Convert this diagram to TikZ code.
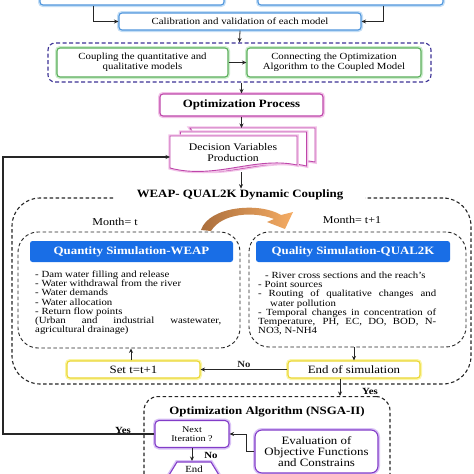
\documentclass[tikz,border=0pt]{standalone}
\usepackage{fontspec}
\setmainfont[FakeStretch=1.15]{Liberation Serif}
\usetikzlibrary{arrows.meta,calc}
\definecolor{bluebd}{RGB}{80,150,220}
\definecolor{blueglow}{RGB}{195,222,246}
\definecolor{greenbd}{RGB}{90,175,90}
\definecolor{greenglow}{RGB}{205,236,205}
\definecolor{pinkbd}{RGB}{190,70,170}
\definecolor{pinkglow}{RGB}{242,195,232}
\definecolor{purbd}{RGB}{130,60,200}
\definecolor{purglow}{RGB}{218,195,246}
\definecolor{yelbd}{RGB}{235,215,50}
\definecolor{yelglow}{RGB}{250,245,165}
\definecolor{navyd}{RGB}{60,50,150}
\definecolor{hdrblue}{RGB}{25,110,230}
\definecolor{arrbrown}{RGB}{170,110,60}
\definecolor{arrorange}{RGB}{245,172,100}
\newcommand\fsA{\fontsize{9.4}{9.6}\selectfont}
\newcommand\fsB{\fontsize{11.2}{11}\selectfont}
\newcommand\fsN{\fontsize{8.8}{9}\selectfont}
\newcommand\fsD{\fontsize{10.2}{10.5}\selectfont}
\newcommand\fsM{\fontsize{10.5}{11}\selectfont}
\tikzset{
  box/.style={rectangle, fill=white, align=center, inner sep=0pt, rounded corners=3pt},
  bluebox/.style={box, draw=bluebd, line width=1.1pt, preaction={draw=blueglow, line width=4pt}},
  greenbox/.style={box, draw=greenbd, line width=1.1pt, preaction={draw=greenglow, line width=4pt}},
  pinkbox/.style={box, draw=pinkbd, line width=1.1pt, preaction={draw=pinkglow, line width=4pt}},
  purbox/.style={box, draw=purbd, line width=1.1pt, preaction={draw=purglow, line width=4pt}},
  yelbox/.style={box, draw=yelbd, line width=1.1pt, preaction={draw=yelglow, line width=4pt}},
  dbox/.style={draw=black!85, dash pattern=on 3.5pt off 2.5pt, line width=1pt},
  hdr/.style={rectangle, rounded corners=2.5pt, fill=hdrblue, text=white, font=\bfseries\fsB, inner sep=0pt},
  arr/.style={-{Stealth[length=4.5pt,width=4pt]}, line width=0.8pt, black!85},
  lbl/.style={font=\bfseries\fsA, inner sep=1pt},
  lst/.style={anchor=base west, inner sep=0pt, font=\fsA},
  pagestyle/.style={draw=pinkbd, fill=white, line width=0.9pt, preaction={draw=pinkglow, line width=3.5pt}}
}
\begin{document}
\begin{tikzpicture}[x=1pt,y=-1pt]
\useasboundingbox (0,0) rectangle (474,474);
\clip (0,0) rectangle (474,474);
\fill[white] (0,0) rectangle (474,474);

% top (cut) boxes
\node[bluebox, minimum width=184, minimum height=22] (m1) at (132,-6) {};
\node[bluebox, minimum width=185, minimum height=22] (m2) at (350.5,-6) {};
\node[bluebox, minimum width=242, minimum height=17, font=\fsA] (cal) at (240,21.5) {Calibration and validation of each model};
\draw[arr] ([xshift=-39pt]m1.south) |- (cal.west);
\draw[arr] ([xshift=32.5pt]m2.south) |- (cal.east);

% coupling group
\node[draw=navyd, dash pattern=on 4pt off 2.5pt, line width=1.1pt, rounded corners=7pt, minimum width=383, minimum height=39] (cpl) at (239.5,62.5) {};
\node[greenbox, minimum width=171, minimum height=29, font=\fsA] (g1) at (142.5,62.5) {Coupling the quantitative and\\qualitative models};
\node[greenbox, minimum width=174, minimum height=29, font=\fsA] (g2) at (334,62.5) {Connecting the Optimization\\Algorithm to the Coupled Model};
\draw[arr] (cal.south) -- (cpl.north);
\draw[arr] (g1.east) -- (g2.west);

\node[pinkbox, minimum width=163, minimum height=22, font=\bfseries\fsB] (op) at (241.5,105) {Optimization Process};
\draw[arr] (op.north |- cpl.south) -- (op.north);

% decision variables (multi-document)
\draw[pagestyle] (190,128) -- (315,128) -- (315,162) .. controls (285,156) and (255,170) .. (215,165) -- cycle;
\draw[pagestyle] (180.5,132) -- (306.5,132) -- (306.5,166) .. controls (265,156) and (230,180) .. (180.5,168) -- cycle;
\draw[pagestyle] (170,136) -- (297,136) -- (297,165) .. controls (255,156) and (215,180) .. (170,168) -- cycle;
\node[font=\fsD, align=center, inner sep=0pt] (dec) at (233,152.5) {Decision Variables\\Production};
\coordinate (dectop) at (243,128);
\coordinate (decbot) at (241,172);
\coordinate (decin) at (170,157);
\draw[arr] (op.south) -- (op.south |- dectop);

% big dynamic coupling box
\node[dbox, line width=1.1pt, rounded corners=28pt, minimum width=459, minimum height=186] (big) at (241.5,291) {};
\node[font=\bfseries\fsB, fill=white, inner xsep=22pt, inner ysep=1pt] (ttl) at (240,195) {WEAP- QUAL2K Dynamic Coupling};
\draw[arr] (decbot) -- (decbot |- ttl.north);

\node[font=\fsM, inner sep=0pt] (mt) at (115,222) {Month= t};
\node[font=\fsM, inner sep=0pt] (mt1) at (352,220) {Month= t+1};

\node[dbox, line width=0.9pt, rounded corners=20pt, minimum width=222, minimum height=116] (lbox) at (129,290) {};
\node[dbox, line width=0.9pt, rounded corners=20pt, minimum width=217, minimum height=115] (rbox) at (357.5,289.5) {};

\shade[left color=arrbrown, right color=arrorange]
  (201,230) .. controls (209,206) and (260,202) .. (281,215)
  -- (293,212) -- (285,229) -- (267,222) -- (274,219)
  .. controls (254,211) and (222,213) .. (211,231) -- cycle;

\node[hdr, minimum width=203, minimum height=21] (lh) at (131.5,251.5) {Quantity Simulation-WEAP};
\node[hdr, minimum width=194, minimum height=21] (rh) at (353,251.5) {Quality Simulation-QUAL2K};

% left list
\node[lst] (l1) at (35,277.5) {- Dam water filling and release};
\node[lst] (l2) at (35,286.7) {- Water withdrawal from the river};
\node[lst] (l3) at (35,295.9) {- Water demands};
\node[lst] (l4) at (35,305.1) {- Water allocation};
\node[lst] (l5) at (35,314.3) {- Return flow points};
\node[lst] (l6) at (35,323.5) {\makebox[186pt][s]{(Urban and industrial wastewater,}};
\node[lst] (l7) at (35,332.7) {agricultural drainage)};

% right list
\node[lst] (r1) at (265,278.5) {- River cross sections and the reach’s};
\node[lst] (r2) at (258,287.7) {- Point sources};
\node[lst] (r3) at (258,296.9) {\makebox[178pt][s]{- Routing of qualitative changes and}};
\node[lst] (r4) at (270,306.1) {water pollution};
\node[lst] (r5) at (258,315.3) {\makebox[178pt][s]{- Temporal changes in concentration of}};
\node[lst] (r6) at (258,324.5) {\makebox[178pt][s]{Temperature, PH, EC, DO, BOD, N-}};
\node[lst] (r7) at (258,333.7) {NO3, N-NH4};

\node[yelbox, minimum width=133, minimum height=17, font=\fsB] (set) at (133.5,369.5) {Set t=t+1};
\node[yelbox, minimum width=132, minimum height=17, font=\fsB] (eos) at (354,369.5) {End of simulation};
\draw[arr] (eos.north |- rbox.south) -- (eos.north);
\draw[arr] ([xshift=-2.5pt]set.north) -- ([xshift=-2.5pt]set.north |- lbox.south);
\draw[arr] (eos.west) -- (set.east) node[midway, above, lbl, yshift=0.5pt] {No};

% optimization algorithm
\node[dbox, line width=1.1pt, rounded corners=14pt, minimum width=246, minimum height=110, anchor=north] (oa) at (267,396) {};
\draw[arr] ([xshift=-14pt]eos.south) -- ([xshift=-14pt]eos.south |- oa.north);
\node[lbl] (yes1) at (370,391) {Yes};
\node[font=\bfseries\fsB, inner sep=0pt] (oat) at (267,412) {Optimization Algorithm (NSGA-II)};

\node[purbox, rounded corners=4pt, minimum width=74, minimum height=27, font=\fsN] (nxt) at (192,434) {Next\\Iteration ?};
\node[purbox, rounded corners=7pt, minimum width=123, minimum height=43, font=\fsB] (ev) at (316.5,451.5) {Evaluation of\\Objective Functions\\and Constrains};
\draw[arr] (ev.west) -- ++(-8,0) |- (nxt.east);

\draw[purbd, line width=1.1pt, fill=white, preaction={draw=purglow, line width=4pt}] (177,462) -- (211,462) -- (222,480) -- (211,498) -- (177,498) -- (166,480) -- cycle;
\node[font=\fsA, inner sep=0pt] (endn) at (194,469) {End};
\coordinate (hextop) at (192,461);
\draw[arr] (nxt.south) -- (nxt.south |- hextop);
\node[lbl] (no2) at (211,455) {No};

% feedback
\coordinate (fb) at (3,434);
\draw[arr, line width=1.1pt] (nxt.west) -- (fb) |- (decin);
\node[lbl] (yes2) at (123,430) {Yes};
\end{tikzpicture}
\end{document}
